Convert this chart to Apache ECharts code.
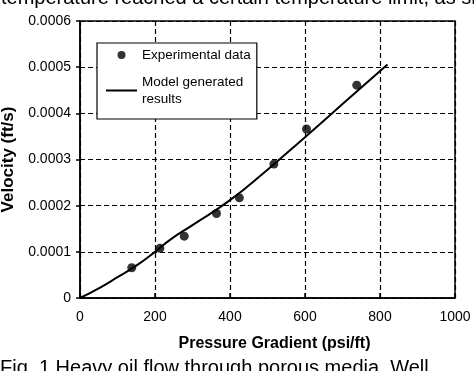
<!DOCTYPE html>
<html><head><meta charset="utf-8">
<script src="https://cdn.jsdelivr.net/npm/echarts@6/dist/echarts.min.js"></script>
<style>html,body{margin:0;padding:0;background:#fff}#c{width:474px;height:371px}</style>
</head><body><div id="c"></div>
<script>
const xTicks = [0, 200, 400, 600, 800, 1000];
const yTicks = [0, 0.0001, 0.0002, 0.0003, 0.0004, 0.0005, 0.0006];
const expX = [138, 213, 278, 364, 425, 517, 604, 738];
const expY = [0.0000656, 0.0001076, 0.000134, 0.000183, 0.000217, 0.00029, 0.000366, 0.000461];
const modelX = [0, 50, 100, 150, 200, 240, 300, 400, 500, 560, 600, 700, 820];
const modelY = [0, 0.000021, 0.000045, 0.00007, 0.0001, 0.000126, 0.000158, 0.000212, 0.000278, 0.00032, 0.000348, 0.00042, 0.000506];
const seriesNames = ['Experimental data', 'Model generated\nresults'];
const xTitle = 'Pressure Gradient (psi/ft)';
const yTitle = 'Velocity (ft/s)';
const topCaption = 'temperature reached a certain temperature limit, as sh';
const bottomCaption = 'Fig. 1 Heavy oil flow through porous media. Well';

const FONT = 'Liberation Sans, Arial, Helvetica, sans-serif';
const chart = echarts.init(document.getElementById('c'), null, {renderer: 'canvas'});
chart.setOption({
  animation: false,
  backgroundColor: '#fff',
  textStyle: {fontFamily: FONT, color: '#000'},
  grid: {left: 80, right: 19, top: 21, bottom: 73, containLabel: false, outerBoundsMode: 'none',
    show: true, borderColor: '#000', borderWidth: 1.5, backgroundColor: 'transparent'},
  legend: {
    left: 97, top: 43, orient: 'vertical',
    backgroundColor: '#fff', borderColor: '#000', borderWidth: 1.2,
    padding: [5, 6, 3, 9], itemGap: 3, itemWidth: 31, itemHeight: 8,
    symbolKeepAspect: true,
    textStyle: {fontSize: 13.5, color: '#000', fontFamily: FONT},
    data: [
      {name: seriesNames[0], icon: 'circle'},
      {name: seriesNames[1], icon: 'path://M0,0H31V2H0Z', textStyle: {padding: [17, 0, 0, 0], lineHeight: 17}}
    ]
  },
  xAxis: {
    type: 'value', min: xTicks[0], max: xTicks[xTicks.length - 1], interval: 200,
    name: xTitle, nameLocation: 'middle', nameGap: 38,
    nameTextStyle: {fontSize: 16, fontWeight: 'bold', color: '#000', padding: [0, 0, 0, 14]},
    axisLine: {show: true, lineStyle: {color: '#000', width: 1.5}},
    axisTick: {show: true, inside: true, length: 5, lineStyle: {color: '#000', width: 1.5}},
    axisLabel: {margin: 12, fontSize: 14, color: '#000', formatter: v => String(v)},
    splitLine: {show: true, lineStyle: {color: '#000', width: 1.2, type: [5, 3]}}
  },
  yAxis: {
    type: 'value', min: yTicks[0], max: yTicks[yTicks.length - 1], interval: 0.0001,
    name: yTitle, nameLocation: 'middle', nameGap: 63,
    nameTextStyle: {fontSize: 17, fontWeight: 'bold', color: '#000'},
    axisLine: {show: true, lineStyle: {color: '#000', width: 1.5}},
    axisTick: {show: true, inside: false, length: 4, lineStyle: {color: '#000', width: 1.5}},
    axisLabel: {margin: 9, fontSize: 14, color: '#000', formatter: v => v === 0 ? '0' : v.toFixed(4)},
    splitLine: {show: true, lineStyle: {color: '#000', width: 1.2, type: [5, 3]}}
  },
  series: [
    {
      name: seriesNames[0], type: 'scatter', symbol: 'circle', symbolSize: 9, z: 4,
      itemStyle: {color: '#000'},
      data: expX.map((x, i) => [x, expY[i]])
    },
    {
      name: seriesNames[1], type: 'line', symbol: 'none', smooth: true, z: 3,
      lineStyle: {color: '#000', width: 2}, itemStyle: {color: '#000'},
      data: modelX.map((x, i) => [x, modelY[i]])
    }
  ],
  graphic: [
    {type: 'text', x: 1, y: -2, style: {text: topCaption, font: '20px ' + FONT, fill: '#000', verticalAlign: 'middle'}},
    {type: 'text', x: 0, y: 368.5, style: {text: bottomCaption, font: '20px ' + FONT, fill: '#000', verticalAlign: 'middle'}}
  ]
});
</script></body></html>
